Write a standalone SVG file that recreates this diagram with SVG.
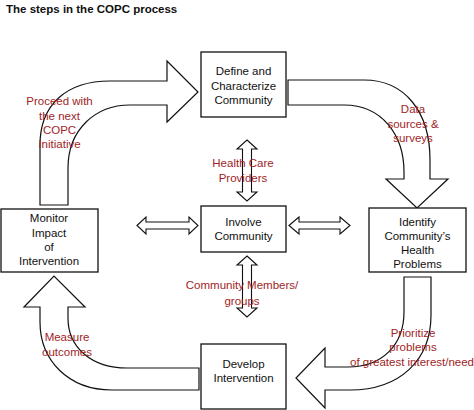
<svg xmlns="http://www.w3.org/2000/svg" width="474" height="410" viewBox="0 0 474 410">
<style>
.bg{fill:#fff}
.box{fill:#fff;stroke:#111;stroke-width:1.3}
.big{fill:#fff;stroke:#111;stroke-width:1.2;stroke-linejoin:miter}
.dbl{fill:#fff;stroke:#111;stroke-width:1.1}
.t{font-family:"Liberation Sans",Arial,sans-serif;font-size:11.5px;fill:#111;text-anchor:middle}
.r{font-family:"Liberation Sans",Arial,sans-serif;font-size:11.5px;fill:#a01e26;text-anchor:middle}
.title{font-family:"Liberation Sans",Arial,sans-serif;font-size:11.5px;font-weight:bold;fill:#111}
</style>
<rect class="bg" x="0" y="0" width="474" height="410"/>
<text class="title" x="6" y="13">The steps in the COPC process</text>
<g id="connectors">
<path class="big" d="M40,205 L40,145 C40,105 66,81 110,81 L167,81 L167,61 L198,92 L167,122 L167,105 L130,105 C95,105 68,130 68,168 L68,205 Z"/>
<path class="big" d="M288,80 L364,80 C405,80 430,112 430,160 L430,179 L448,179 L417,208 L386,179 L404,179 L404,172 C404,135 382,105 344,105 L288,105 Z"/>
<path class="big" d="M404,277 L431,277 L431,315 C431,360 400,390 350,390 L325,390 L325,408 L296,378 L325,348 L325,367 L348,367 C382,367 404,345 404,312 Z"/>
<path class="big" d="M199,368 L199,390 L112,390 C68,390 40,360 40,322 L40,307 L24,307 L54,276 L85,307 L68,307 L68,318 C68,348 92,368 127,368 Z"/>
<polygon class="dbl" points="247,140 257,149 251.5,149 251.5,192 257,192 247,201 237,192 242.5,192 242.5,149 237,149"/>
<polygon class="dbl" points="247,256 257,265 251.5,265 251.5,308 257,308 247,317 237,308 242.5,308 242.5,265 237,265"/>
<polygon class="dbl" points="137,225.5 146,217 146,222 189,222 189,217 198,225.5 189,234 189,229 146,229 146,234"/>
<polygon class="dbl" points="289,225.5 299,217 299,222 340,222 340,217 350,225.5 340,234 340,229 299,229 299,234"/>
</g>
<g id="define">
<rect class="box" x="201" y="52" width="85" height="65"/>
<text class="t" x="243.5" y="75">Define and</text>
<text class="t" x="243.5" y="90">Characterize</text>
<text class="t" x="243.5" y="104">Community</text>
</g>
<g id="involve">
<rect class="box" x="201" y="206" width="85" height="46"/>
<text class="t" x="243.5" y="226">Involve</text>
<text class="t" x="243.5" y="240">Community</text>
</g>
<g id="monitor">
<rect class="box" x="1" y="209" width="97" height="63"/>
<text class="t" x="49" y="222">Monitor</text>
<text class="t" x="49" y="237">Impact</text>
<text class="t" x="49" y="251">of</text>
<text class="t" x="49" y="265">Intervention</text>
</g>
<g id="identify">
<rect class="box" x="369" y="208" width="97" height="64"/>
<text class="t" x="417.5" y="226">Identify</text>
<text class="t" x="417.5" y="240">Community’s</text>
<text class="t" x="417.5" y="254">Health</text>
<text class="t" x="417.5" y="268">Problems</text>
</g>
<g id="develop">
<rect class="box" x="201" y="344" width="85" height="65"/>
<text class="t" x="243.5" y="368">Develop</text>
<text class="t" x="243.5" y="382">Intervention</text>
</g>
<g id="labels">
<text class="r" x="59.5" y="105">Proceed with</text>
<text class="r" x="59.5" y="120">the next</text>
<text class="r" x="59.5" y="134">COPC</text>
<text class="r" x="59.5" y="148">Initiative</text>
<text class="r" x="413" y="113">Data</text>
<text class="r" x="413" y="128">sources &amp;</text>
<text class="r" x="413" y="142">surveys</text>
<text class="r" x="243" y="167">Health Care</text>
<text class="r" x="243" y="182">Providers</text>
<text class="r" x="242" y="289">Community Members/</text>
<text class="r" x="242" y="305">groups</text>
<text class="r" x="67" y="341">Measure</text>
<text class="r" x="67" y="356">outcomes</text>
<text class="r" x="413" y="337">Prioritize</text>
<text class="r" x="413" y="351">problems</text>
<text class="r" x="412" y="366">of greatest interest/need</text>
</g>
</svg>
